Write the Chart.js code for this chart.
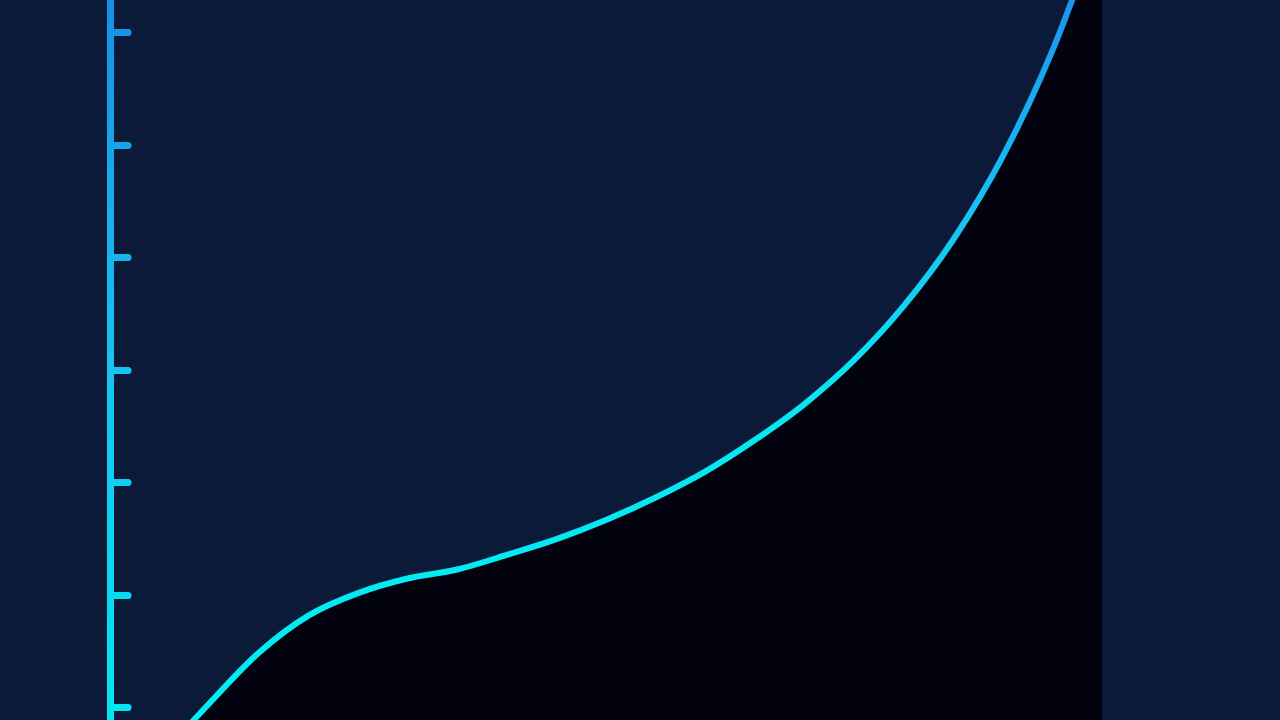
<!DOCTYPE html>
<html>
<head>
<meta charset="utf-8">
<script src="https://cdn.jsdelivr.net/npm/chart.js@4/dist/chart.umd.min.js"></script>
<style>
  html, body { margin: 0; padding: 0; background: #0b1a38; overflow: hidden; }
  #wrap { position: absolute; left: 0; top: 0; width: 1280px; height: 720px; }
</style>
</head>
<body>
<div id="wrap"><canvas id="c" width="1280" height="720"></canvas></div>
<script>
// ---- data ----
const xValues = [0, 5, 10, 15, 20, 25, 30, 35, 40, 45, 50, 55, 60, 65, 70, 75, 80, 85, 90, 95, 100];
const yValues = [0.9, 5.6, 10.4, 14.9, 18.2, 20.2, 21.5, 22.3, 23.6, 25.0, 26.7, 28.7, 31.0, 33.8, 37.0, 40.9, 45.7, 51.6, 59.0, 68.4, 80.1];
const yTickValues = [10, 20, 30, 40, 50, 60, 70];
const yMin = 8.93;
const yMax = 72.9;
const xMin = 0;
const xMax = 100;

const points = xValues.map((x, i) => ({ x: x, y: yValues[i] }));

function vGrad(chart, stops) {
  const area = chart.chartArea;
  if (!area) return stops[stops.length - 1][1];
  const g = chart.ctx.createLinearGradient(0, area.top, 0, area.bottom);
  stops.forEach(s => g.addColorStop(s[0], s[1]));
  return g;
}
const axisStops = [[0, '#1790e4'], [0.5, '#17c3f0'], [1, '#00e8f2']];
const lineStops = [[0, '#1b96ee'], [0.3, '#18c2f1'], [0.55, '#08e6f1'], [1, '#00eef2']];

const roundCaps = {
  id: 'roundCaps',
  beforeDraw(chart) { chart.ctx.lineCap = 'round'; }
};

new Chart(document.getElementById('c'), {
  type: 'line',
  data: {
    datasets: [{
      data: points,
      parsing: false,
      borderWidth: 6,
      borderColor: ctx => vGrad(ctx.chart, lineStops),
      backgroundColor: '#02030f',
      fill: 'start',
      pointRadius: 0,
      cubicInterpolationMode: 'monotone',
      borderCapStyle: 'round',
      borderJoinStyle: 'round'
    }]
  },
  options: {
    responsive: false,
    animation: false,
    layout: { padding: { left: 0, right: 178, top: 0, bottom: 0 } },
    plugins: { legend: { display: false }, tooltip: { enabled: false } },
    scales: {
      x: {
        type: 'linear',
        min: xMin,
        max: xMax,
        display: false
      },
      y: {
        type: 'linear',
        position: 'left',
        min: yMin,
        max: yMax,
        afterBuildTicks: s => { s.ticks = yTickValues.map(v => ({ value: v })); },
        afterFit: s => { s.width = 110; },
        ticks: { display: false },
        grid: {
          display: true,
          drawOnChartArea: false,
          drawTicks: true,
          tickLength: -18,
          tickWidth: 7,
          tickBorderDash: [16, 200],
          tickBorderDashOffset: 0,
          tickColor: ctx => vGrad(ctx.chart, axisStops)
        },
        border: {
          display: true,
          width: 7,
          color: ctx => vGrad(ctx.chart, axisStops)
        }
      }
    }
  },
  plugins: [roundCaps]
});
</script>
</body>
</html>
